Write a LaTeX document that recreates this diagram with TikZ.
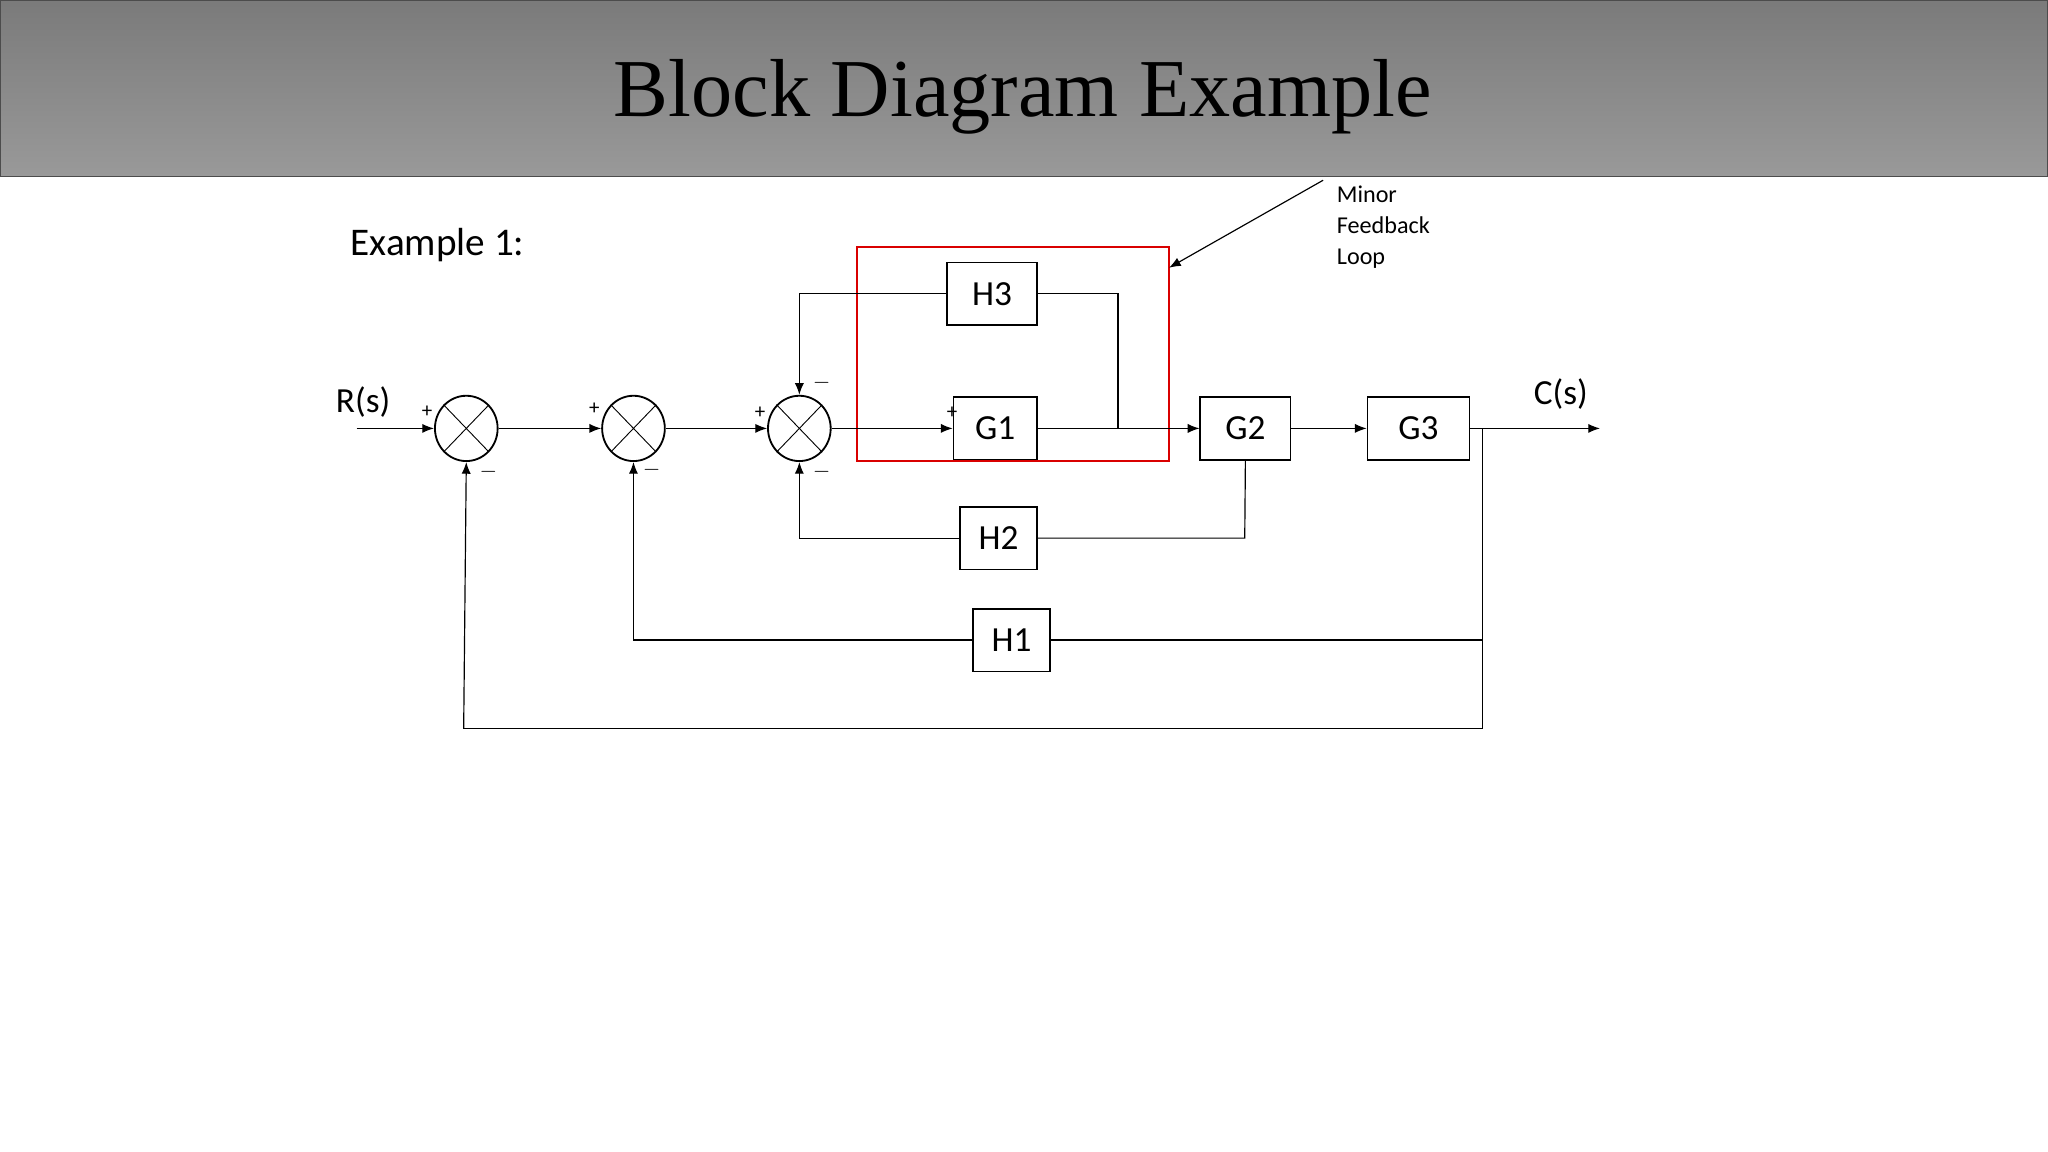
\documentclass[tikz,border=0pt]{standalone}
\usepackage{fontspec}
\usetikzlibrary{shapes.geometric,arrows.meta}
\setmainfont{Carlito}
\newfontfamily\titlefont{Liberation Serif}
\begin{document}
\begin{tikzpicture}[x=1pt,y=-1pt,
  blk/.style={draw,line width=1.3pt,minimum height=48pt,inner sep=0pt,font=\fontsize{27}{30}\selectfont},
  sum/.style={draw,ellipse,line width=1.4pt,minimum width=48pt,minimum height=50pt,inner sep=0pt},
  ln/.style={line width=0.9pt},
  arr/.style={ln,-{Latex[length=9pt,width=7pt]}},
  sg/.style={font=\fontsize{16}{16}\selectfont,inner sep=0pt}]
\useasboundingbox (0,0) rectangle (1568,882);
\shade[top color=black!52,bottom color=black!40,draw=black!70,line width=1pt] (0,0) rectangle (1568,135);
\node[font=\titlefont\fontsize{63}{70}\selectfont] (title) at (783,74) {Block Diagram Example};
\node[anchor=west,font=\fontsize{30}{34}\selectfont] (ex) at (265,188) {Example 1:};
% sums
\foreach \n/\x in {s1/357,s2/485,s3/612}{
  \node[sum] (\n) at (\x,328) {};
  \draw[line width=0.7pt] (\n.north west)--(\n.south east) (\n.north east)--(\n.south west);
}
\node[blk,minimum width=64pt] (G1) at (762,328) {G1};
\node[blk,minimum width=69pt] (G2) at (953.5,328) {G2};
\node[blk,minimum width=78pt] (G3) at (1086,328) {G3};
\node[blk,minimum width=69pt] (H3) at (759.5,225) {H3};
\node[blk,minimum width=59pt] (H2) at (764.5,412) {H2};
\node[blk,minimum width=59pt] (H1) at (774.5,490) {H1};
\draw[red!85!black,line width=1.2pt] (656,189) rectangle (895,353);
\coordinate (in) at (273,328);
\coordinate (out) at (1225,328);
\coordinate (b1) at (1135,328);
\coordinate (b3) at (856,328);
\node[anchor=south,font=\fontsize{27}{30}\selectfont] (R) at (278,323) {R(s)};
\node[anchor=south,font=\fontsize{27}{30}\selectfont] (C) at (1195,317) {C(s)};
\draw[arr] (in)--(s1.west);
\draw[arr] (s1.east)--(s2.west);
\draw[arr] (s2.east)--(s3.west);
\draw[arr] (s3.east)--(G1.west);
\draw[arr] (G1.east)--(G2.west);
\draw[arr] (G2.east)--(G3.west);
\draw[arr] (G3.east)--(out);
\draw[ln] (b1)--(1135,558)--(355,558);
\draw[arr] (355,558)--(s1.south);
\draw[ln] (1135,490)--(H1.east);
\draw[ln] (H1.west)--(485,490);
\draw[arr] (485,490)--(s2.south);
\draw[ln] (G2.south)--(953,412)--(H2.east);
\draw[ln] (H2.west)--(612,412);
\draw[arr] (612,412)--(s3.south);
\draw[ln] (b3)--(856,225)--(H3.east);
\draw[ln] (H3.west)--(612,225);
\draw[arr] (612,225)--(s3.north);
% signs
\node[sg] at (327,315) {+};
\node[sg] at (455,313) {+};
\node[sg] at (582,316) {+};
\node[sg] at (729,316) {+};
\node[sg] at (374,361) {$-$};
\node[sg] at (499,360) {$-$};
\node[sg] at (629,361) {$-$};
\node[sg] at (629,293) {$-$};
% annotation
\coordinate (a0) at (1013,138);
\draw[ln,-{Latex[length=9pt,width=7pt]}] (a0)--(895,205);
\node[anchor=north west,align=left,font=\fontsize{18.5}{23.5}\selectfont] (note) at (1020,139) {Minor\\Feedback\\Loop};
\end{tikzpicture}
\end{document}
